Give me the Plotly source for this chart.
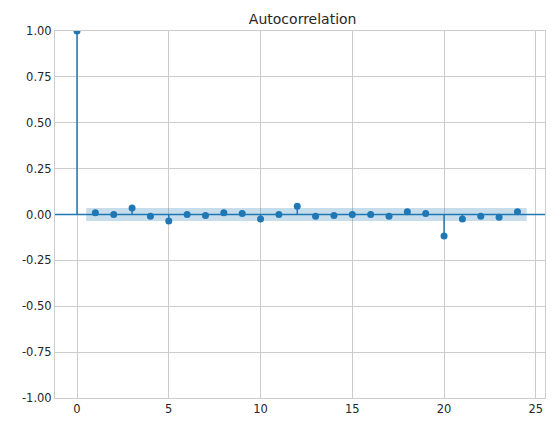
import plotly.graph_objects as go

# acf values
lags = list(range(25))
acf = [1.0, 0.01, 0.0, 0.035, -0.01, -0.035, 0.0, -0.005, 0.01, 0.005,
       -0.025, 0.0, 0.045, -0.01, -0.005, 0.0, 0.0, -0.01, 0.015, 0.005,
       -0.117, -0.025, -0.01, -0.015, 0.015]
conf = 0.036
xticks = [0, 5, 10, 15, 20, 25]
yticks = [-1.0, -0.75, -0.5, -0.25, 0.0, 0.25, 0.5, 0.75, 1.0]

blue = "#1f77b4"

# stems as one line trace with gaps
sx, sy = [], []
for l, v in zip(lags, acf):
    sx += [l, l, None]
    sy += [0, v, None]

band_x = [lags[1] - 0.5] + lags[1:] + [lags[-1] + 0.5]
fig = go.Figure()
fig.add_trace(go.Scatter(x=band_x + band_x[::-1],
                         y=[conf] * len(band_x) + [-conf] * len(band_x),
                         fill="toself", fillcolor="rgba(31,119,180,0.25)",
                         line=dict(width=0), mode="lines", hoverinfo="skip"))
fig.add_trace(go.Scatter(x=sx, y=sy, mode="lines", line=dict(color=blue, width=1.5)))
fig.add_trace(go.Scatter(x=lags, y=acf, mode="markers",
                         marker=dict(color=blue, size=7)))
fig.add_hline(y=0, line=dict(color=blue, width=1.5))

axis = dict(showgrid=True, gridcolor="#cccccc", gridwidth=1, zeroline=False,
            showline=True, linecolor="#cccccc", mirror=True, ticks="",
            automargin=False, tickfont=dict(size=11.5, color="#262626"))
# page has an 8px body offset, so margins are shifted to compensate
fig.update_layout(
    width=556, height=428, showlegend=False,
    plot_bgcolor="white", paper_bgcolor="white",
    font=dict(family="DejaVu Sans", color="#262626"),
    margin=dict(l=47, r=19, t=23, b=38),
    title=dict(text="Autocorrelation", x=0.53, xanchor="center", y=0.985,
               yanchor="top", font=dict(size=14)),
    xaxis=dict(axis, range=[-1.2, 25.5], tickvals=xticks),
    yaxis=dict(axis, range=[-1.0, 1.0], tickvals=yticks,
               ticktext=[f"{t:.2f}" for t in yticks]),
)
fig.write_html("out.html")
